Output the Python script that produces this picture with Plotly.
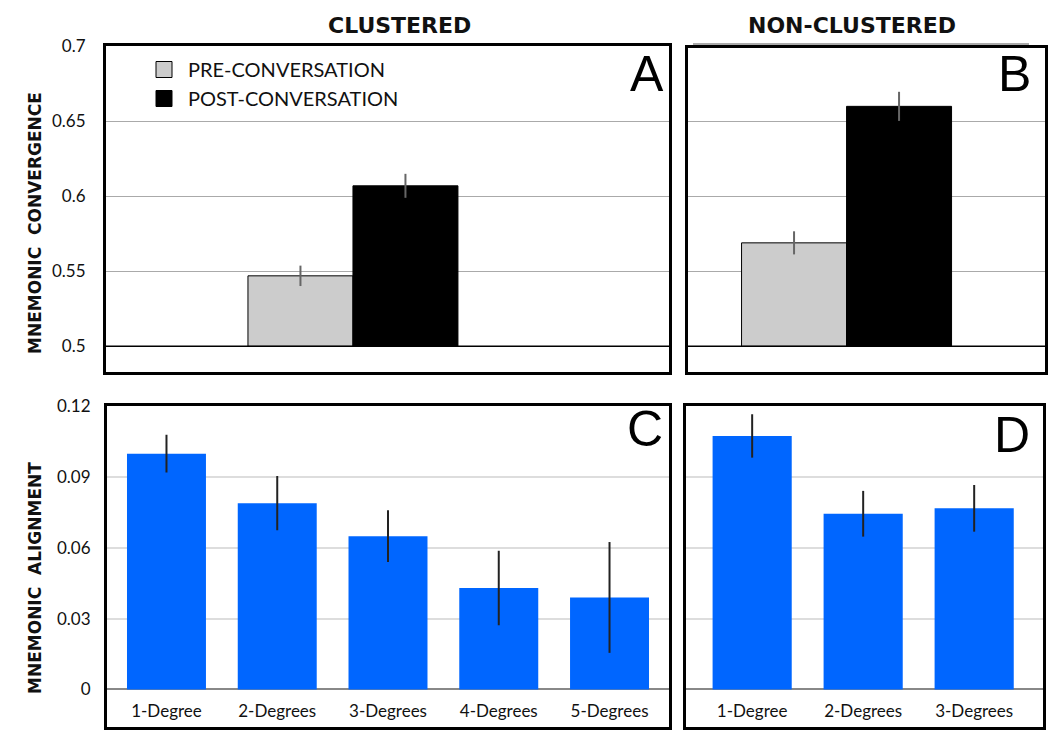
import plotly.graph_objects as go

W, H = 1064, 737

# ---- data ----
series_names = ["PRE-CONVERSATION", "POST-CONVERSATION"]
convergence_baseline = 0.5
clustered_convergence = [0.547, 0.607]
clustered_convergence_err = [0.0068, 0.0080]
nonclustered_convergence = [0.569, 0.660]
nonclustered_convergence_err = [0.0077, 0.0097]

clustered_degrees = ["1-Degree", "2-Degrees", "3-Degrees", "4-Degrees", "5-Degrees"]
clustered_alignment = [0.100, 0.079, 0.065, 0.043, 0.039]
clustered_alignment_err = [0.008, 0.0115, 0.011, 0.0158, 0.0235]

nonclustered_degrees = ["1-Degree", "2-Degrees", "3-Degrees"]
nonclustered_alignment = [0.1075, 0.0745, 0.0768]
nonclustered_alignment_err = [0.0092, 0.0097, 0.0099]

panel_titles = ["CLUSTERED", "NON-CLUSTERED"]
panel_letters = ["A", "B", "C", "D"]
y_titles = ["MNEMONIC\u00a0\u00a0CONVERGENCE", "MNEMONIC\u00a0\u00a0ALIGNMENT"]

# ---- styles ----
pre_color = "#cccccc"
post_color = "#000000"
blue = "#0066ff"
tick_font = dict(family="Lato", size=17, color="#111")


def px_x(x):
    return x / W


def px_y(y):
    return 1 - y / H


fig = go.Figure()

# Top panels: pre / post bars
for i, (vals, errs) in enumerate([(clustered_convergence, clustered_convergence_err),
                                  (nonclustered_convergence, nonclustered_convergence_err)]):
    xa = "x" if i == 0 else "x2"
    ya = "y" if i == 0 else "y2"
    for j in range(2):
        fig.add_trace(go.Bar(
            x=[series_names[j]], y=[vals[j] - convergence_baseline], base=convergence_baseline,
            width=1, xaxis=xa, yaxis=ya, showlegend=False,
            marker=dict(color=pre_color if j == 0 else post_color,
                        line=dict(color="#000", width=1)),
            error_y=dict(type="data", array=[errs[j]], color="#666", thickness=2, width=0),
        ))

# legend entries (square markers)
for j, name in enumerate(series_names):
    fig.add_trace(go.Scatter(
        x=[None], y=[None], mode="markers", name=name, xaxis="x", yaxis="y",
        marker=dict(symbol="square", size=20,
                    color=pre_color if j == 0 else post_color,
                    line=dict(color="#000", width=1)),
    ))

# Bottom panels
for i, (cats, vals, errs) in enumerate([(clustered_degrees, clustered_alignment, clustered_alignment_err),
                                        (nonclustered_degrees, nonclustered_alignment, nonclustered_alignment_err)]):
    fig.add_trace(go.Bar(
        x=cats, y=vals, xaxis="x3" if i == 0 else "x4", yaxis="y3" if i == 0 else "y4",
        showlegend=False, marker=dict(color=blue, line=dict(width=0)),
        error_y=dict(type="data", array=errs, color="#222", thickness=2, width=0),
    ))

box = dict(showline=True, linecolor="#000", linewidth=3, mirror=True, automargin=False)

fig.update_layout(
    width=W, height=H, margin=dict(l=0, r=0, t=0, b=0, autoexpand=False),
    paper_bgcolor="white", plot_bgcolor="white",
    barmode="overlay", bargap=0.287,
    showlegend=True,
    legend=dict(x=px_x(140), y=px_y(50), xanchor="left", yanchor="top",
                font=dict(family="Lato", size=20, color="#111"),
                bgcolor="rgba(0,0,0,0)", tracegroupgap=0, itemwidth=38),
    xaxis=dict(domain=[px_x(106), px_x(669)], anchor="y", range=[-1.852, 3.51],
               showticklabels=False, showgrid=False, zeroline=False, **box),
    yaxis=dict(domain=[px_y(372), px_y(46)], anchor="x", range=[0.4829, 0.7002],
               tickvals=[0.5, 0.55, 0.6, 0.65, 0.7], ticktext=["0.5", "0.55", "0.6", "0.65", "0.7"],
               showgrid=True, gridcolor="#aaaaaa", gridwidth=1, zeroline=False,
               ticks="outside", ticklen=14, tickcolor="rgba(0,0,0,0)", tickfont=tick_font, **box),
    xaxis2=dict(domain=[px_x(688), px_x(1045)], anchor="y2", range=[-1.01, 2.39],
                showticklabels=False, showgrid=False, zeroline=False, **box),
    yaxis2=dict(domain=[px_y(372), px_y(48)], anchor="x2", range=[0.4829, 0.6989],
                tickvals=[0.5, 0.55, 0.6, 0.65, 0.7], showticklabels=False,
                showgrid=True, gridcolor="#aaaaaa", gridwidth=1, zeroline=False, **box),
    xaxis3=dict(domain=[px_x(107), px_x(669)], anchor="y3", range=[-0.537, 4.537],
                showgrid=False, zeroline=False, tickfont=tick_font,
                ticklabelposition="inside", ticks="inside", ticklen=7,
                tickcolor="rgba(0,0,0,0)", **box),
    yaxis3=dict(domain=[px_y(727), px_y(406)], anchor="x3", range=[-0.01595, 0.1202],
                tickvals=[0, 0.03, 0.06, 0.09, 0.12], ticktext=["0", "0.03", "0.06", "0.09", "0.12"],
                showgrid=True, gridcolor="#dddddd", gridwidth=1.5,
                zeroline=True, zerolinecolor="#888888", zerolinewidth=2,
                ticks="outside", ticklen=10, tickcolor="rgba(0,0,0,0)", tickfont=tick_font, **box),
    xaxis4=dict(domain=[px_x(686), px_x(1043)], anchor="y4", range=[-0.596, 2.62],
                showgrid=False, zeroline=False, tickfont=tick_font,
                ticklabelposition="inside", ticks="inside", ticklen=7,
                tickcolor="rgba(0,0,0,0)", **box),
    yaxis4=dict(domain=[px_y(727), px_y(406)], anchor="x4", range=[-0.01595, 0.1202],
                tickvals=[0, 0.03, 0.06, 0.09, 0.12], showticklabels=False,
                showgrid=True, gridcolor="#dddddd", gridwidth=1.5,
                zeroline=True, zerolinecolor="#888888", zerolinewidth=2, **box),
)

# baseline at 0.5 in top panels
for xr, yr in [("x domain", "y"), ("x2 domain", "y2")]:
    fig.add_shape(type="line", xref=xr, yref=yr, x0=0, x1=1,
                  y0=convergence_baseline, y1=convergence_baseline,
                  line=dict(color="#000", width=1.5), layer="above")
# faint rule peeking above panel B
fig.add_shape(type="line", xref="x2 domain", yref="paper",
              x0=(693 - 688) / 357, x1=(1029 - 688) / 357, y0=px_y(44), y1=px_y(44),
              line=dict(color="#aaaaaa", width=2), layer="above")

annotations = []
# column titles
for t, cx in zip(panel_titles, [399, 852]):
    annotations.append(dict(text=t, x=px_x(cx), y=px_y(26), xref="paper", yref="paper",
                            xanchor="center", yanchor="middle", showarrow=False,
                            font=dict(family="DejaVu Sans", size=22, color="#111", weight="bold")))
# y-axis titles
for t, cy in zip(y_titles, [223, 578]):
    annotations.append(dict(text=t, x=px_x(35), y=px_y(cy), xref="paper", yref="paper",
                            xanchor="center", yanchor="middle", textangle=-90, showarrow=False,
                            font=dict(family="DejaVu Sans", size=17, color="#111", weight="bold")))
# panel letters
for t, (rx, cy) in zip(panel_letters, [(666, 74), (1033, 74), (665, 429), (1032, 435)]):
    annotations.append(dict(text=t, x=px_x(rx), y=px_y(cy), xref="paper", yref="paper",
                            xanchor="right", yanchor="middle", showarrow=False,
                            font=dict(family="Liberation Sans", size=50, color="#000")))
fig.update_layout(annotations=annotations)

fig.write_html("out.html", config={"displayModeBar": False},
               post_script="document.body.style.margin='0';")
